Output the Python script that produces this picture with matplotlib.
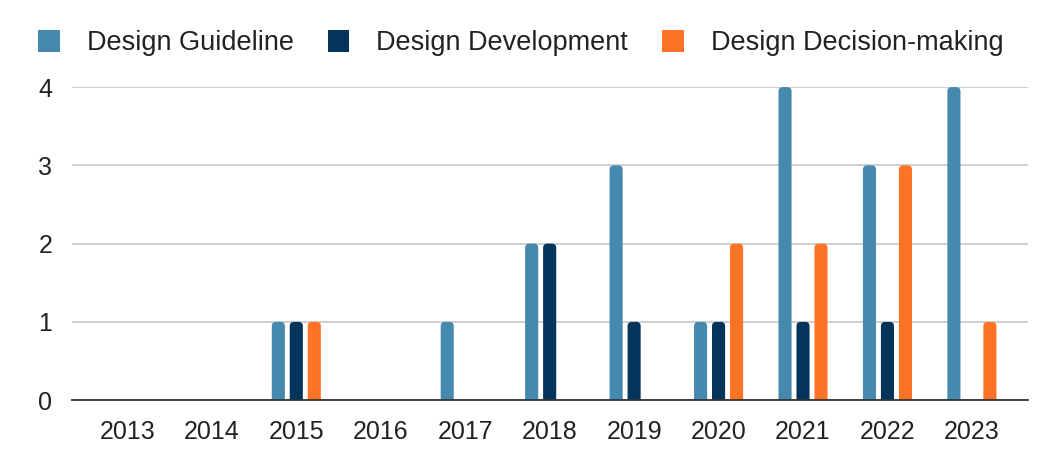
import numpy as np
import matplotlib.pyplot as plt
from matplotlib.patches import FancyBboxPatch, Patch

plt.rcParams['font.family'] = ['Liberation Sans', 'DejaVu Sans']

years = ['2013', '2014', '2015', '2016', '2017', '2018', '2019', '2020', '2021', '2022', '2023']
guideline = [0, 0, 1, 0, 1, 2, 3, 1, 4, 3, 4]
development = [0, 0, 1, 0, 0, 2, 1, 1, 1, 1, 0]
decision = [0, 0, 1, 0, 0, 0, 0, 2, 2, 3, 1]

series = [
    ('Design Guideline', guideline, '#4689ae'),
    ('Design Development', development, '#03345c'),
    ('Design Decision-making', decision, '#ff7327'),
]

fig = plt.figure(figsize=(10.54, 4.61), dpi=100)
ax = fig.add_axes([0.068, 0.132, 0.907, 0.679])

x = np.arange(len(years))
offset = 0.213
width = 0.155

# rounded-top bars, bottom goes below 0 so the clip hides the lower corners
for i, (name, vals, color) in enumerate(series):
    for xi, v in zip(x, vals):
        if v <= 0:
            continue
        left = xi + (i - 1) * offset - width / 2
        p = FancyBboxPatch((left, -0.1), width, v + 0.1,
                           boxstyle='round,pad=0,rounding_size=0.05',
                           mutation_aspect=1.08,
                           facecolor=color, edgecolor='none', zorder=3)
        ax.add_patch(p)

ax.set_xlim(-0.66, len(years) - 1 + 0.66)
ax.set_ylim(0, 4)
ax.set_xticks(x)
ax.set_xticklabels(years)
ax.set_yticks([0, 1, 2, 3, 4])
ax.tick_params(axis='both', length=0, labelsize=18, colors='#222222')
ax.tick_params(axis='x', pad=14)
ax.tick_params(axis='y', pad=14)
ax.grid(axis='y', color='#cccccc', linewidth=1.3, zorder=0)
for s in ['top', 'right', 'left']:
    ax.spines[s].set_visible(False)
ax.spines['bottom'].set_color('#333333')
ax.spines['bottom'].set_linewidth(1.3)
ax.spines['bottom'].set_zorder(4)

handles = [Patch(facecolor=c, edgecolor='none', label=n) for n, _, c in series]
fig.legend(handles=handles, loc='upper left', bbox_to_anchor=(0.036, 0.935),
           ncol=3, frameon=False, fontsize=19.5, handlelength=0.8, handleheight=0.85,
           handletextpad=1.0, columnspacing=1.25, borderpad=0, borderaxespad=0,
           labelcolor='#222222')

fig.savefig('out.png', dpi=100)
